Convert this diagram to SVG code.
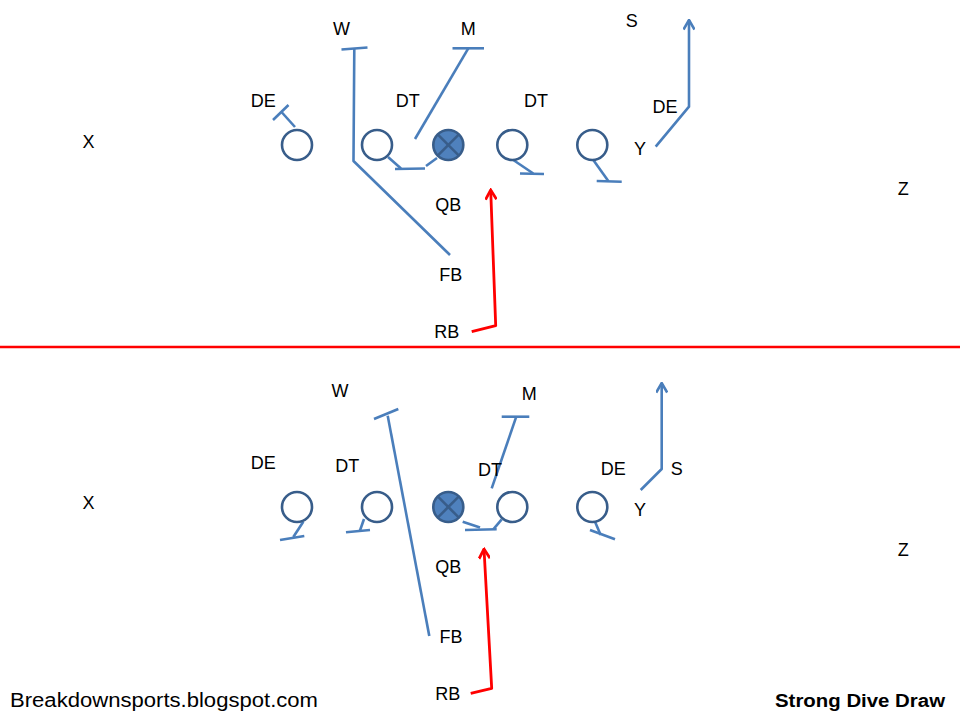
<svg xmlns="http://www.w3.org/2000/svg" width="960" height="720" viewBox="0 0 960 720">
<style>
.t{font-family:"Liberation Sans",Arial,sans-serif;font-size:18px;fill:#000;text-anchor:middle}
.p{fill:#fff;stroke:#385d8a;stroke-width:2.6}
.c{fill:#4f81bd;stroke:#385d8a;stroke-width:2.6}
.x{stroke:#385d8a;stroke-width:2.6}
.b{fill:none;stroke:#4a7ebb;stroke-width:2.6;stroke-linejoin:round}
.r{fill:none;stroke:#ff0000;stroke-width:2.8;stroke-linejoin:round}
</style>
<defs>
<marker id="ab" viewBox="0 0 12 12" refX="10.5" refY="6" markerWidth="12" markerHeight="12" markerUnits="userSpaceOnUse" orient="auto">
<path d="M1,0.5 L10.5,6 L1,11.5" fill="none" stroke="#4a7ebb" stroke-width="2.6"/>
</marker>
<marker id="ar" viewBox="0 0 12 12" refX="10.5" refY="6" markerWidth="12" markerHeight="12" markerUnits="userSpaceOnUse" orient="auto">
<path d="M1,0.5 L10.5,6 L1,11.5" fill="none" stroke="#ff0000" stroke-width="2.8"/>
</marker>
</defs>
<rect width="960" height="720" fill="#fff"/>
<g id="connectors">
<!-- top -->
<line class="b" x1="295" y1="127" x2="281.5" y2="112"/>
<line class="b" x1="273" y1="120" x2="288.5" y2="105"/>
<polyline class="b" points="354.3,48.5 353.5,161 450,255"/>
<line class="b" x1="341.5" y1="49.5" x2="367.5" y2="47.5"/>
<line class="b" x1="415" y1="139" x2="468.3" y2="48.3"/>
<line class="b" x1="452.5" y1="48.3" x2="484" y2="48.3"/>
<line class="b" x1="388" y1="157" x2="401" y2="168.5"/>
<line class="b" x1="395" y1="169" x2="425" y2="168.5"/>
<line class="b" x1="426" y1="166" x2="437" y2="158"/>
<line class="b" x1="513.3" y1="160" x2="533.3" y2="173.5"/>
<line class="b" x1="520" y1="173.5" x2="544" y2="174"/>
<line class="b" x1="593.3" y1="160" x2="608.3" y2="181"/>
<line class="b" x1="596.7" y1="181" x2="621.7" y2="181.7"/>
<polyline class="b" points="655.7,146.7 689,106.7 689,20" marker-end="url(#ab)"/>
<polyline class="r" points="471.7,331.7 495.7,325.7 490.7,190" marker-end="url(#ar)"/>
<line x1="0" y1="347" x2="960" y2="347" stroke="#ff0000" stroke-width="2.4"/>
<!-- bottom -->
<line class="b" x1="303.3" y1="521.7" x2="293.3" y2="537"/>
<line class="b" x1="280" y1="540" x2="304.3" y2="536"/>
<line class="b" x1="364" y1="519" x2="360" y2="530.5"/>
<line class="b" x1="346" y1="532.3" x2="370" y2="530"/>
<line class="b" x1="374" y1="419" x2="398.3" y2="409"/>
<line class="b" x1="387.7" y1="415.7" x2="429.3" y2="636"/>
<line class="b" x1="462.7" y1="521.7" x2="480" y2="527.5"/>
<line class="b" x1="465" y1="530" x2="496.7" y2="529.3"/>
<line class="b" x1="501.7" y1="519.3" x2="493.3" y2="529.3"/>
<line class="b" x1="491.7" y1="488.3" x2="516.3" y2="416.7"/>
<line class="b" x1="501.7" y1="416.7" x2="529.3" y2="416.7"/>
<line class="b" x1="595" y1="521.7" x2="600.7" y2="535"/>
<line class="b" x1="590" y1="530" x2="615" y2="539.3"/>
<polyline class="b" points="640.7,490 661.7,469 661.7,383" marker-end="url(#ab)"/>
<polyline class="r" points="470.7,693.3 491.7,688.3 484,549" marker-end="url(#ar)"/>
</g>
<g id="top-players">
<circle id="t-de1" class="p" cx="297" cy="145" r="15"/>
<circle id="t-dt1" class="p" cx="377" cy="145" r="15"/>
<g id="t-center"><circle class="c" cx="448.3" cy="145" r="15"/><line class="x" x1="437.7" y1="134.4" x2="458.9" y2="155.6"/><line class="x" x1="458.9" y1="134.4" x2="437.7" y2="155.6"/></g>
<circle id="t-dt2" class="p" cx="512.3" cy="145" r="15"/>
<circle id="t-de2" class="p" cx="592.3" cy="145" r="15"/>
</g>
<g id="bottom-players">
<circle id="b-de1" class="p" cx="297" cy="507" r="15"/>
<circle id="b-dt1" class="p" cx="377" cy="507" r="15"/>
<g id="b-center"><circle class="c" cx="448.3" cy="507" r="15"/><line class="x" x1="437.7" y1="496.4" x2="458.9" y2="517.6"/><line class="x" x1="458.9" y1="496.4" x2="437.7" y2="517.6"/></g>
<circle id="b-dt2" class="p" cx="512.3" cy="507" r="15"/>
<circle id="b-de2" class="p" cx="592.3" cy="507" r="15"/>
</g>
<g id="top-labels">
<text class="t" x="341.5" y="35">W</text>
<text class="t" x="468.3" y="35">M</text>
<text class="t" x="631.7" y="27">S</text>
<text class="t" x="263.3" y="107">DE</text>
<text class="t" x="407.7" y="107">DT</text>
<text class="t" x="536" y="107">DT</text>
<text class="t" x="665" y="113">DE</text>
<text class="t" x="640" y="155">Y</text>
<text class="t" x="88.5" y="148">X</text>
<text class="t" x="903.3" y="195">Z</text>
<text class="t" x="448.3" y="211">QB</text>
<text class="t" x="450.7" y="281">FB</text>
<text class="t" x="446.7" y="338">RB</text>
</g>
<g id="bottom-labels">
<text class="t" x="340" y="397">W</text>
<text class="t" x="529.3" y="400">M</text>
<text class="t" x="263.3" y="469">DE</text>
<text class="t" x="347.3" y="472">DT</text>
<text class="t" x="490" y="476">DT</text>
<text class="t" x="613.3" y="475">DE</text>
<text class="t" x="676.7" y="475">S</text>
<text class="t" x="640" y="516">Y</text>
<text class="t" x="88.5" y="509">X</text>
<text class="t" x="903.3" y="556">Z</text>
<text class="t" x="448.3" y="573">QB</text>
<text class="t" x="451" y="643">FB</text>
<text class="t" x="447.7" y="700">RB</text>
</g>
<g id="footer">
<text x="10" y="707" style="font-family:'Liberation Sans',Arial,sans-serif;font-size:20px" textLength="308" lengthAdjust="spacingAndGlyphs">Breakdownsports.blogspot.com</text>
<text x="945" y="707" style="font-family:'Liberation Sans',Arial,sans-serif;font-size:18px;font-weight:bold;text-anchor:end" textLength="170" lengthAdjust="spacingAndGlyphs">Strong Dive Draw</text>
</g>
</svg>
